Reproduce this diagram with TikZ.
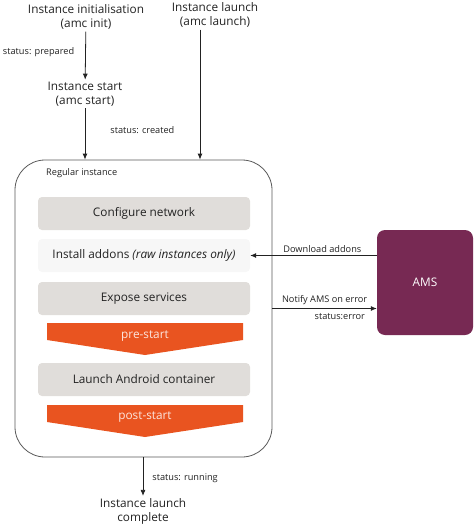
\documentclass[tikz,border=0pt]{standalone}
\usepackage{fontspec}
\setmainfont{Open Sans}
\usetikzlibrary{arrows.meta,calc}
\definecolor{ubOrange}{HTML}{E95420}
\definecolor{ubAubergine}{HTML}{772953}
\definecolor{stepGrey}{HTML}{E0DDDA}
\definecolor{stepLight}{HTML}{F7F7F7}
\definecolor{ink}{HTML}{222222}
\begin{document}
\begin{tikzpicture}[x=1pt, y=-1pt, font=\fontsize{11.8}{14}\selectfont, text=ink,
  title/.style={align=center, inner sep=2pt},
  lbl/.style={font=\fontsize{9.2}{11}\selectfont, inner sep=1pt},
  arr/.style={-{Latex[length=6pt,width=5pt]}, draw=ink, line width=0.8pt},
  frame/.style={draw=black!65, line width=0.8pt, rounded corners=30pt,
                minimum width=257pt, minimum height=297pt},
  stepbox/.style={fill=stepGrey, rounded corners=4pt, minimum width=212pt, minimum height=33pt},
  lightbox/.style={stepbox, fill=stepLight},
  hook/.style={fill=ubOrange},
  hooktext/.style={text=white!85!ubOrange},
  ams/.style={fill=ubAubergine, text=white, rounded corners=8pt,
              minimum width=96pt, minimum height=105pt},
]
\useasboundingbox (0,0) rectangle (474,525);

\node[title] (init)   at (86,17)  {Instance initialisation\\(amc init)};
\node[title] (start)  at (85,94)  {Instance start\\(amc start)};
\node[title] (launch) at (215,15) {Instance launch\\(amc launch)};

\node[frame] (inst) at (143.5,308.5) {};
\node[lbl, anchor=west] (instlbl) at (45,173) {Regular instance};

\node[stepbox]  (net)    at (144,213.5) {Configure network};
\node[lightbox] (addons) at (144,255.5) {Install addons \textit{(raw instances only)}};
\node[stepbox]  (expose) at (144,298.5) {Expose services};

% hooks drawn as chevrons
\fill[hook] (47,323) -- (243,323) -- (243,340) -- (145,355) -- (47,340) -- cycle;
\node[hooktext] (pre) at (145,336) {pre-start};

\node[stepbox] (android) at (144,379.5) {Launch Android container};

\fill[hook] (47,405) -- (243,405) -- (243,422) -- (145,437) -- (47,422) -- cycle;
\node[hooktext] (post) at (145,417) {post-start};

\node[title] (done) at (143,511) {Instance launch\\complete};

\node[ams] (ams) at (425,282.5) {AMS};

\draw[arr] (init) -- node[lbl, left=10pt, pos=0.43] {status: prepared} (start);
\draw[arr] (start) -- node[lbl, right=24pt, pos=0.43] {status: created} (start |- inst.north);
\draw[arr] ([xshift=-15pt]launch.south) -- ([xshift=-15pt]launch.south |- inst.north);
\draw[arr] (inst.south -| done) -- node[lbl, right=8pt, pos=0.55] {status: running} (done);

\draw[arr] (ams.west |- addons) -- node[lbl, above=2pt, pos=0.43] {Download addons} (addons.east);
\draw[arr] (inst.east) -- node[lbl, above=2pt] {Notify AMS on error}
  node[lbl, below=4pt, pos=0.9, anchor=north east] {status:error} (inst.east -| ams.west);
\end{tikzpicture}
\end{document}
